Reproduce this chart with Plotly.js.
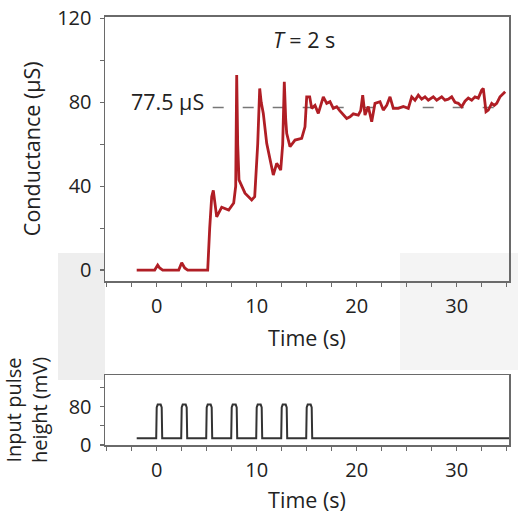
<!DOCTYPE html>
<html>
<head>
<meta charset="utf-8">
<script src="https://cdn.plot.ly/plotly-3.0.1.min.js"></script>
<style>html,body{margin:0;padding:0;background:#fff;}#chart{width:518px;height:514px;}</style>
</head>
<body>
<div id="chart"></div>
<script>
// Conductance trace (top panel)
const condTime = [-2, -0.2, 0.1, 0.3, 0.6, 2.2, 2.5, 2.8, 3.1, 5.1, 5.3, 5.5, 5.66, 5.8, 6.0, 6.5, 7.2, 7.7, 7.9, 8.0, 8.1, 8.23, 8.5, 8.83, 9.5, 9.8, 10.1, 10.3, 10.45, 10.66, 11.0, 11.33, 11.66, 12.0, 12.4, 12.6, 12.76, 12.9, 13.0, 13.33, 13.83, 14.5, 14.83, 15.0, 15.3, 15.5, 15.83, 16.16, 16.4, 16.66, 17.0, 17.33, 17.66, 18.0, 18.3, 18.66, 19.0, 19.33, 19.66, 20.16, 20.4, 20.6, 20.83, 21.16, 21.5, 21.83, 22.33, 22.66, 23.0, 23.33, 23.66, 24.16, 24.66, 25.16, 25.5, 25.83, 26.16, 26.5, 26.83, 27.16, 27.66, 28.0, 28.5, 28.83, 29.16, 29.5, 29.83, 30.16, 30.5, 30.83, 31.16, 31.5, 31.83, 32.16, 32.5, 32.66, 32.93, 33.16, 33.5, 33.75, 34.0, 34.33, 34.66, 34.85];
const condValue = [0, 0, 2.4, 1, 0, 0, 3.5, 1, 0, 0, 20, 35, 38, 33, 25.4, 30, 28.6, 32, 40, 93, 60, 43, 40.5, 36.7, 33.4, 35, 60, 86.6, 80, 74.7, 60.4, 52.5, 45.3, 50.9, 47.7, 60, 89.8, 72, 65.2, 58.8, 62, 62.8, 68.3, 82.6, 82.6, 77.1, 78.5, 74.7, 78, 82.6, 79.5, 80.3, 77.1, 77.9, 76, 73.9, 72.3, 73.1, 74.5, 73.9, 76, 83.4, 73.9, 78, 70.7, 79.5, 80.3, 76.3, 78.5, 82.6, 77.1, 77.1, 78, 77.1, 82.6, 81, 83.4, 81.5, 82.6, 81, 82.6, 81, 82.6, 81, 81.5, 82.6, 80, 79.5, 77.9, 80.5, 82, 81, 82.6, 82, 85.8, 86.6, 75.5, 76.3, 79.5, 78.5, 79.5, 82.6, 84.2, 85];

// Saturation level
const satLevel = 77.5;
const satStart = 5.6;
const satEnd = 34.3;
const satLabel = '77.5 µS';
const panelTitle = '<i>T</i> = 2 s';

// Input pulse train (bottom panel)
const pulseTime = [-2, -0.05, 0, 0.1, 0.4, 0.5, 0.55, 2.45, 2.5, 2.6, 2.9, 3.0, 3.05, 4.95, 5.0, 5.1, 5.4, 5.5, 5.55, 7.45, 7.5, 7.6, 7.9, 8.0, 8.05, 9.95, 10.0, 10.1, 10.4, 10.5, 10.55, 12.45, 12.5, 12.6, 12.9, 13.0, 13.05, 14.95, 15.0, 15.1, 15.4, 15.5, 15.55, 35.3];
const pulseValue = [14, 14, 78, 84, 84, 78, 14, 14, 78, 84, 84, 78, 14, 14, 78, 84, 84, 78, 14, 14, 78, 84, 84, 78, 14, 14, 78, 84, 84, 78, 14, 14, 78, 84, 84, 78, 14, 14, 78, 84, 84, 78, 14, 14];

// Axis ticks
const timeTicks = [0, 10, 20, 30];
const condTicks = [0, 40, 80, 120];
const pulseTicks = [0, 80];

const W = 518, H = 514;
const px = v => v / W;
const py = v => 1 - v / H;

const FONT = 'Open Sans, Noto Sans, sans-serif';
const TXT = '#222';
const AX = '#6a6a6a';
const TICKSIZE = 20;
const TITLESIZE = 21.5;

const traces = [
  {x: condTime, y: condValue, type: 'scatter', mode: 'lines', xaxis: 'x', yaxis: 'y',
   line: {color: '#b01e25', width: 2.8}, hoverinfo: 'skip'},
  {x: pulseTime, y: pulseValue, type: 'scatter', mode: 'lines', xaxis: 'x2', yaxis: 'y2',
   line: {color: '#333', width: 2}, hoverinfo: 'skip'}
];

const axCommon = {
  showline: true, linecolor: AX, linewidth: 1.5, mirror: true,
  ticks: 'outside', ticklen: 4, tickwidth: 1.2, tickcolor: AX,
  showgrid: false, zeroline: false, fixedrange: true,
  tickfont: {family: FONT, size: TICKSIZE, color: TXT}
};
const titleFont = {family: FONT, size: TITLESIZE, color: TXT};

const layout = {
  width: W, height: H,
  margin: {l: 0, r: 0, t: 0, b: 0},
  paper_bgcolor: '#fff', plot_bgcolor: 'rgba(0,0,0,0)',
  showlegend: false,
  xaxis: Object.assign({}, axCommon, {
    domain: [px(105), px(509)], anchor: 'y', range: [-5.17, 35.23],
    tickvals: timeTicks, minor: {dtick: 2.5, ticks: 'outside', ticklen: 4, tickcolor: AX, tickwidth: 1.2},
    ticklabelstandoff: 2,
    title: {text: 'Time (s)', font: titleFont, standoff: 13}
  }),
  yaxis: Object.assign({}, axCommon, {
    domain: [py(281), py(16.5)], anchor: 'x', range: [-5.2, 120.9],
    tickvals: condTicks, minor: {dtick: 20, ticks: 'outside', ticklen: 4, tickcolor: AX, tickwidth: 1.2},
    ticklabelstandoff: 4,
    title: {text: 'Conductance (µS)', font: titleFont, standoff: 10}
  }),
  xaxis2: Object.assign({}, axCommon, {
    domain: [px(105), px(509)], anchor: 'y2', range: [-5.17, 35.23],
    tickvals: timeTicks, minor: {dtick: 2.5, ticks: 'outside', ticklen: 4, tickcolor: AX, tickwidth: 1.2},
    ticklabelstandoff: 2,
    title: {text: 'Time (s)', font: titleFont, standoff: 15}
  }),
  yaxis2: Object.assign({}, axCommon, {
    domain: [py(445), py(375)], anchor: 'x2', range: [0, 145.5],
    tickvals: pulseTicks, minor: {dtick: 40, ticks: 'outside', ticklen: 4, tickcolor: AX, tickwidth: 1.2},
    ticklabelstandoff: 4,
    title: {text: 'Input pulse<br>height (mV)', font: {family: FONT, size: 20, color: TXT}, standoff: 32}
  }),
  shapes: [
    {type: 'rect', xref: 'paper', yref: 'paper', x0: px(58), x1: px(105), y0: py(380), y1: py(253),
     fillcolor: '#eeeeee', line: {width: 0}, layer: 'below'},
    {type: 'rect', xref: 'paper', yref: 'paper', x0: px(400), x1: 1, y0: py(370), y1: py(253),
     fillcolor: '#f4f4f4', line: {width: 0}, layer: 'below'},
    {type: 'line', xref: 'x', yref: 'y', x0: satStart, x1: satEnd, y0: satLevel, y1: satLevel,
     line: {color: '#777', width: 1.5, dash: '11px,19px'}, layer: 'below'}
  ],
  annotations: [
    {xref: 'x', yref: 'y', x: 4.9, y: 80.5, text: satLabel, showarrow: false, xanchor: 'right', yanchor: 'middle',
     font: titleFont},
    {xref: 'x', yref: 'y', x: 14.7, y: 109.7, text: panelTitle, showarrow: false, xanchor: 'center', yanchor: 'middle',
     font: titleFont}
  ]
};

Plotly.newPlot('chart', traces, layout, {displayModeBar: false, staticPlot: true});
</script>
</body>
</html>
